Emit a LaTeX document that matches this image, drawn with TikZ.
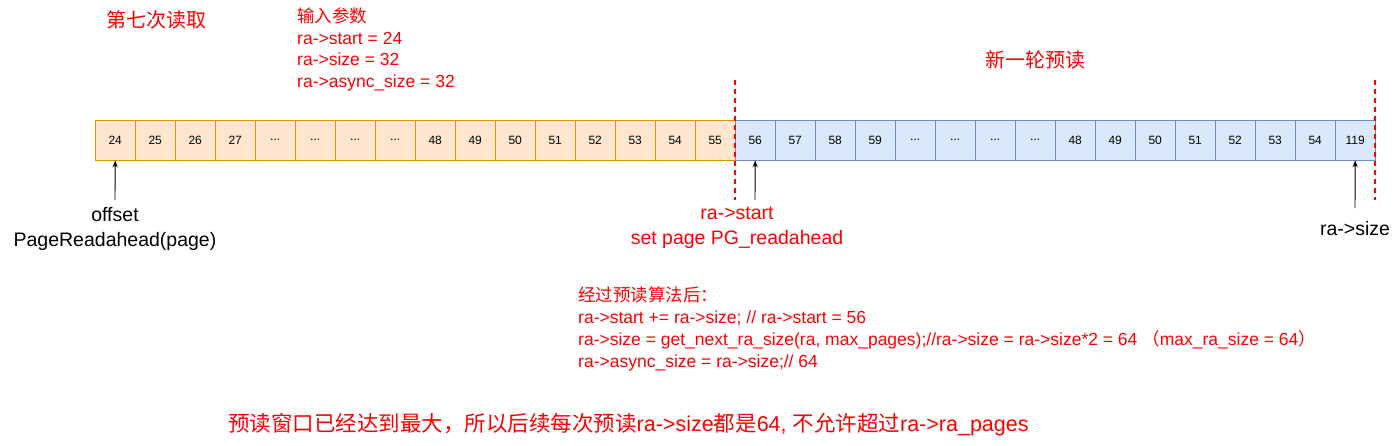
\documentclass[tikz,border=0pt]{standalone}
\usepackage{fontspec}
\usetikzlibrary{arrows.meta}
\setmainfont{Liberation Sans}
\newfontfamily\cjk{Noto Sans CJK SC}
\newcommand\mydts{...}
\definecolor{ofill}{HTML}{FFE6CC}\definecolor{odraw}{HTML}{D79B00}
\definecolor{bfill}{HTML}{DAE8FC}\definecolor{bdraw}{HTML}{6C8EBF}
\begin{document}
\begin{tikzpicture}[x=1pt,y=-1pt,
  ocell/.style={draw=odraw,fill=ofill,minimum width=40pt,minimum height=40pt,inner sep=0,font=\fontsize{12}{13}\selectfont,anchor=north west},
  bcell/.style={draw=bdraw,fill=bfill,minimum width=40pt,minimum height=40pt,inner sep=0,font=\fontsize{12}{13}\selectfont,anchor=north west},
  rtxt/.style={text=red,inner sep=0},
  btxt/.style={font=\fontsize{19.5}{25}\selectfont,inner sep=0},
  arr/.style={-{Stealth[length=7pt,width=5pt]},line width=0.9pt},
  rdash/.style={red,line width=1.5pt,dash pattern=on 5pt off 4pt}]
\useasboundingbox (0,0) rectangle (1400,445);
\foreach \t [count=\i from 0] in {24,25,26,27,\mydts,\mydts,\mydts,\mydts,48,49,50,51,52,53,54,55}
  \node[ocell] (o\i) at (95+40*\i,120) {\t};
\foreach \t [count=\i from 0] in {56,57,58,59,\mydts,\mydts,\mydts,\mydts,48,49,50,51,52,53,54,119}
  \node[bcell] (b\i) at (735+40*\i,120) {\t};
\coordinate (d1a) at (735,80); \coordinate (d1b) at (735,200);
\coordinate (d2a) at (1375,80); \coordinate (d2b) at (1375,200);
\draw[rdash] (d1a) -- (d1b);
\draw[rdash] (d2a) -- (d2b);
\node[btxt,align=center,anchor=north] (off) at (115,207) {offset\\PageReadahead(page)};
\coordinate (oa) at (115,200);
\draw[arr] (oa) -- (o0.south);
\node[rtxt,align=center,anchor=north,font=\fontsize{19.5}{25}\selectfont] (st) at (737,207) {ra->start\\set page PG\_readahead};
\coordinate (sa) at (755,200);
\draw[arr] (sa) -- (b0.south);
\node[btxt] (sz) at (1355,229) {ra->size};
\coordinate (za) at (1355,208);
\draw[arr] (za) -- (b15.south);
\node[rtxt,font=\fontsize{20}{22}\selectfont\cjk] (t7) at (156,20) {第七次读取};
\node[rtxt,align=left,anchor=north west,font=\fontsize{17.5}{21.5}\selectfont] (inp) at (297,8) {{\cjk 输入参数}\\ra->start = 24\\ra->size = 32\\ra->async\_size = 32};
\node[rtxt,font=\fontsize{20}{22}\selectfont\cjk] (xl) at (1035,60) {新一轮预读};
\node[rtxt,align=left,anchor=north west,font=\fontsize{17.5}{22}\selectfont] (alg) at (578,287) {{\cjk 经过预读算法后：}\\ra->start += ra->size; // ra->start = 56\\ra->size = get\_next\_ra\_size(ra, max\_pages);//ra->size = ra->size*2 = 64 {\cjk（}max\_ra\_size = 64{\cjk）}\\ra->async\_size = ra->size;// 64};
\node[rtxt,anchor=west,font=\fontsize{21.5}{24}\selectfont] (fin) at (228,425) {{\cjk 预读窗口已经达到最大，所以后续每次预读}ra->size{\cjk 都是}64, {\cjk 不允许超过}ra->ra\_pages};
\end{tikzpicture}
\end{document}
